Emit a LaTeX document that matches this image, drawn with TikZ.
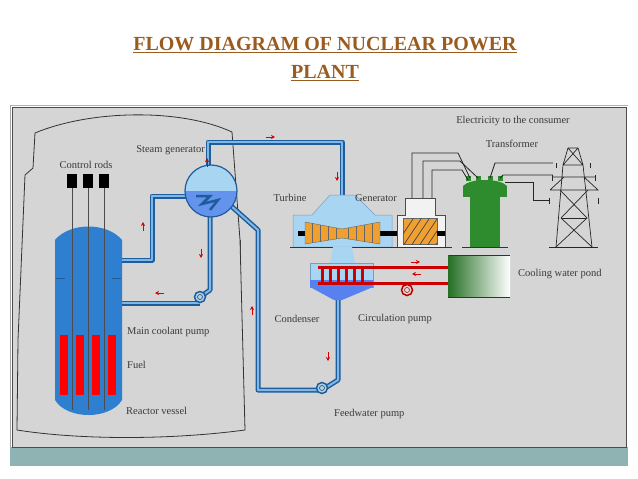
\documentclass[tikz,border=0pt]{standalone}
\usepackage{fontspec}
\setmainfont{Liberation Serif}
\usetikzlibrary{arrows.meta,patterns}
\definecolor{bgray}{HTML}{D5D5D5}
\definecolor{band}{HTML}{8FB3B3}
\definecolor{title}{HTML}{9A5B1E}
\definecolor{pipeD}{HTML}{1F5C9A}
\definecolor{pipeL}{HTML}{7DB8E8}
\definecolor{vessel}{HTML}{2F7FD0}
\definecolor{lblue}{HTML}{A8D6F2}
\definecolor{orng}{HTML}{F0A030}
\definecolor{tgreen}{HTML}{2E8B2E}
\definecolor{lab}{HTML}{3A3A3A}
\tikzset{
 pipe/.style={line width=5pt,pipeD,line join=round},
 pipein/.style={line width=2pt,pipeL,line join=round},
 redp/.style={line width=3pt,red!80!black},
 lbl/.style={font=\fontsize{10.5}{12}\selectfont,text=lab,inner sep=0pt},
 arr/.style={red!85!black,line width=1pt,-{Stealth[length=4pt,width=4pt]}},
 wire/.style={gray!30!black,line width=0.8pt},
 pump/.style={circle,draw=pipeD,line width=1.5pt,fill=lblue,minimum size=11pt,inner sep=0pt}
}
\begin{document}
\begin{tikzpicture}[x=1pt,y=-1pt]
\useasboundingbox (0,0) rectangle (638,479);
\fill[white] (0,0) rectangle (638,479);
% title
\node[font=\bfseries\fontsize{20}{24}\selectfont,text=title,align=center] (t1) at (325,45) {\underline{FLOW DIAGRAM OF NUCLEAR POWER}};
\node[font=\bfseries\fontsize{20}{24}\selectfont,text=title] (t2) at (325,73) {\underline{PLANT}};
\draw[gray!60,line width=1pt] (10,105) -- (628,105);
\draw[gray!70] (10,105) -- (10,466);
\fill[band] (10,447) rectangle (628,466);
\fill[bgray] (12,107) rectangle (626,447);
\draw[gray!60!black,line width=0.8pt] (12,107) rectangle (626,447);
% containment
\draw[gray!40!black,line width=0.8pt] (35,133) .. controls (90,110) and (180,108) .. (232,132)
  -- (240,240) -- (245,430) .. controls (170,440) and (80,440) .. (17,430)
  -- (18,340) -- (25,175) -- (33,168) -- cycle;
\draw[gray!50!black] (240,240)--(240,255);
% pipes
\foreach \s in {pipe,pipein}{
 \draw[\s] (122,260) -- (152,260) -- (152,196) -- (195,196);
 \draw[\s] (122,303) -- (200,303);
 \draw[\s] (200,297) -- (210,290) -- (210,210);
 \draw[\s] (208,168) -- (208,142) -- (342,142) -- (342,195);
 \draw[\s] (230,205) -- (258,230) -- (258,390) -- (322,390);
 \draw[\s] (322,390) -- (338,380) -- (338,300);
}
% steam generator
\fill[lblue] (211,191) circle (26);
\fill[pipeL!80!blue] (185,191) arc (180:0:26) -- cycle;
\draw[pipeD,line width=1.2pt] (211,191) circle (26);
\draw[pipeD,line width=2.5pt] (196,196) -- (210,196) -- (202,204) -- (218,200) -- (210,210);
% reactor vessel
\fill[vessel] (55,240) .. controls (70,222) and (107,222) .. (122,240) -- (122,400)
  .. controls (110,420) and (67,420) .. (55,400) -- cycle;
\draw[pipeD,line width=1pt] (56,278)--(65,278) (112,278)--(121,278);
\foreach \x in {60,76,92,108}{\fill[red] (\x,335) rectangle (\x+8,395);}
\foreach \x in {72,88,104}{\fill[black] (\x-5,174) rectangle (\x+5,188);
  \draw[black!70,line width=0.8pt] (\x,188) -- (\x,410);}
% pumps
\node[pump] (mcp) at (200,297) {};
\node[pump] (fwp) at (322,388) {};
\node[circle,draw=red!70!black,line width=1.5pt,fill=red!20,minimum size=11pt,inner sep=0pt] (cp) at (407,290) {};
\foreach \n in {mcp,fwp,cp}{\draw[gray!50!black,line width=0.6pt] (\n) circle (2.5pt);}
% turbine
\fill[lblue,draw=pipeD!60,line width=0.5pt] (293,247) -- (293,215) -- (312,215) -- (330,195) -- (355,195) -- (375,215) -- (392,215) -- (392,247) -- cycle;
\fill[black] (298,231) rectangle (445,236);
\fill[orng,draw=black!60,line width=0.4pt] (305,222) -- (342,229) -- (380,222) -- (380,244) -- (342,238) -- (305,244) -- cycle;
\foreach \x in {312,320,328,336,348,356,364,372}{
  \pgfmathsetmacro{\ya}{222+7*(1-abs(\x-342)/37)}
  \pgfmathsetmacro{\yb}{244-6*(1-abs(\x-342)/37)}
  \draw[black!60,line width=0.4pt] (\x,\ya) -- (\x,\yb);}
% generator
\fill[gray!10,draw=gray!60!black,line width=0.6pt] (397,247) -- (397,215) -- (405,215) -- (405,198) -- (435,198) -- (435,215) -- (445,215) -- (445,247) -- cycle;
\fill[orng,draw=black!60] (403,218) rectangle (437,244);
\begin{scope}
\clip (403,218) rectangle (437,244);
\foreach \i in {0,8,...,48}{\draw[black!70,line width=0.8pt] (395+\i,246) -- (415+\i,216);}
\end{scope}
\fill[black] (437,231) rectangle (445,236);
\draw[gray!40!black,line width=0.8pt] (290,247) -- (452,247);
% neck + condenser
\fill[lblue] (333,247) -- (352,247) -- (355,263) -- (330,263) -- cycle;
\fill[lblue,draw=pipeD!60,line width=0.5pt] (310,263) rectangle (373,287);
\fill[pipeL!70!blue] (310,280) rectangle (373,287);
\fill[pipeL!70!blue] (310,287) -- (373,287) -- (342,300) -- (334,300) -- cycle;
\draw[redp] (318,267) -- (448,267);
\draw[redp] (318,283) -- (448,283);
\foreach \x in {322,330,338,346,354,362}{\fill[red!80!black] (\x-1.5,267) rectangle (\x+1.5,283);}
% pond
\shade[left color=tgreen!80!black,right color=white] (448,255) rectangle (510,297);
\draw[gray!40!black,line width=0.8pt] (448,255) -- (510,255) (448,297) -- (510,297);
\draw[tgreen!80!black] (448,255) -- (448,297);
% transformer
\fill[tgreen] (470,195) rectangle (500,247);
\fill[tgreen] (463,197) rectangle (507,186);
\fill[tgreen] (463,186) .. controls (470,178) and (500,178) .. (507,186);
\foreach \x in {468,478,490,500}{\fill[tgreen] (\x-2.5,181) rectangle (\x+2.5,176);}
\draw[gray!40!black,line width=0.8pt] (462,247) -- (508,247);
% wires
\draw[wire] (412,198) -- (412,153) -- (458,153) -- (470,178);
\draw[wire] (423,198) -- (423,161) -- (460,161) -- (478,178);
\draw[wire] (432,198) -- (432,170) -- (462,170) -- (468,180);
\draw[wire] (490,178) -- (495,163) -- (553,163);
\draw[wire] (500,178) -- (503,175) -- (553,175);
\draw[wire] (505,182) -- (533,182) -- (533,200) -- (549,200);
% tower
\begin{scope}[wire,line width=0.7pt]
\draw (568,148) -- (563,165) -- (556,247) (578,148) -- (583,165) -- (592,247);
\draw (563,165) -- (583,165) (568,148) -- (578,148) (568,148)--(583,165) (578,148)--(563,165);
\draw (552,177) -- (595,177) (550,190) -- (598,190) -- (584,177) (550,190) -- (564,177);
\draw (560,190) -- (587,218) -- (556,247) (588,190) -- (561,218) -- (592,247);
\draw (561,218) -- (587,218) (549,247) -- (598,247);
\draw (556,163)--(556,168) (590,163)--(590,168) (552,175)--(552,181) (595,175)--(595,181) (549,198)--(549,204) (598,198)--(598,204);
\end{scope}
% arrows
\draw[arr] (266,137) -- (275,137);
\draw[arr] (207,167) -- (207,158);
\draw[arr] (143,231) -- (143,222);
\draw[arr] (201,249) -- (201,258);
\draw[arr] (164,293) -- (155,293);
\draw[arr] (252,315) -- (252,306);
\draw[arr] (337,172) -- (337,181);
\draw[arr] (328,352) -- (328,361);
\draw[arr] (411,262) -- (420,262);
\draw[arr] (421,274) -- (412,274);
% labels
\node[lbl,anchor=east] (l1) at (205,150) {Steam generator};
\node[lbl] (l2) at (86,165) {Control rods};
\node[lbl] (l3) at (290,198) {Turbine};
\node[lbl] (l4) at (376,198) {Generator};
\node[lbl] (l5) at (513,121) {Electricity to the consumer};
\node[lbl] (l6) at (512,144) {Transformer};
\node[lbl,anchor=west] (l7) at (518,274) {Cooling water pond};
\node[lbl] (l8) at (297,319) {Condenser};
\node[lbl] (l9) at (395,319) {Circulation pump};
\node[lbl,anchor=west] (l10) at (127,332) {Main coolant pump};
\node[lbl,anchor=west] (l11) at (127,365) {Fuel};
\node[lbl,anchor=west] (l12) at (126,411) {Reactor vessel};
\node[lbl,anchor=west] (l13) at (334,414) {Feedwater pump};
\end{tikzpicture}
\end{document}
